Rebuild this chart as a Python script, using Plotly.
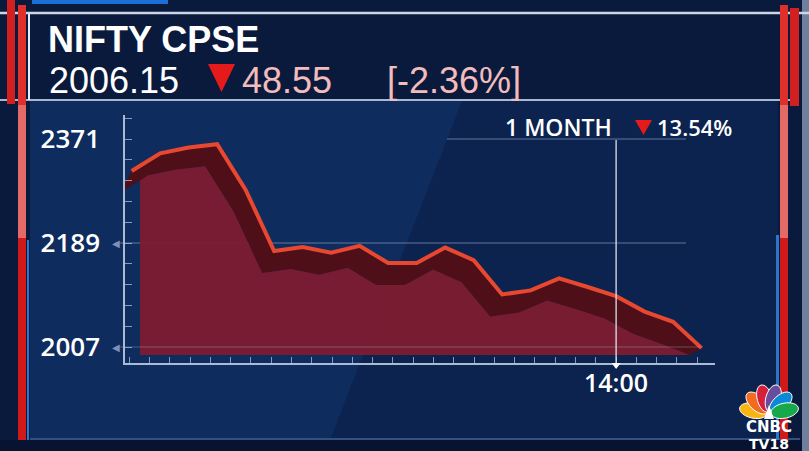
import math
import numpy as np
import plotly.graph_objects as go

W, H = 809, 451

# NIFTY CPSE intraday values
x_idx = list(range(21))
prices = [2315, 2346, 2356, 2362, 2282, 2175, 2182, 2172, 2184, 2154, 2154,
          2181, 2159, 2099, 2106, 2127, 2112, 2096, 2069, 2051, 2005]
y_ticks = [2007, 2189, 2371]
y_tick_labels = ['2007', '2189', '2371']
x_tick_vals = [17]
x_tick_labels = ['14:00']

index_name = 'NIFTY CPSE'
last_price = '2006.15'
change = '48.55'
change_pct = '[-2.36%]'
month_label = '1 MONTH'
month_change = '13.54%'

# 3d "extrusion" of the area: front face is shifted left/down
DEPTH_X = -0.42
DEPTH_Y = -38.5
BASE = 1993

NAVY = '#0a1a3d'
PANEL = '#0f2c5f'
FONT = 'Open Sans'
HEAD_FONT = 'Liberation Sans'
PINK = '#f3bcbc'

# plot box in pixels
PLOT_L, PLOT_R, FACE_L = 125, 715, 140
X_RANGE = [-0.235, 20.47]


def px(x):
    return x / W


def py(y):
    return 1 - y / H


# the front face is clipped a little to the right of the y axis
unit_px = (PLOT_R - PLOT_L) / (X_RANGE[1] - X_RANGE[0])
face_range = [X_RANGE[0] + (FACE_L - PLOT_L) / unit_px, X_RANGE[1]]

face_x = np.array(x_idx) + DEPTH_X
face_y = np.maximum(np.array(prices) + DEPTH_Y, BASE)
clear = dict(color='rgba(0,0,0,0)', width=0)

fig = go.Figure()
# top surface band (between back edge and front edge)
fig.add_trace(go.Scatter(x=face_x, y=face_y, mode='lines', line=clear,
                         hoverinfo='skip', showlegend=False))
fig.add_trace(go.Scatter(x=x_idx, y=prices, mode='lines', line=clear,
                         fill='tonexty', fillcolor='#4f0f19',
                         hoverinfo='skip', showlegend=False))
# front face
fig.add_trace(go.Scatter(x=face_x, y=[BASE] * len(face_x), mode='lines', line=clear,
                         xaxis='x2', hoverinfo='skip', showlegend=False))
fig.add_trace(go.Scatter(x=face_x, y=face_y, mode='lines', line=clear,
                         xaxis='x2', fill='tonexty', fillcolor='rgba(124,28,48,0.96)',
                         hoverinfo='skip', showlegend=False))
# bright edge line
fig.add_trace(go.Scatter(x=x_idx, y=prices, mode='lines',
                         line=dict(color='#e8482f', width=4),
                         showlegend=False))

shapes = []


def rect(x0, y0, x1, y1, color, layer='below'):
    shapes.append(dict(type='rect', xref='paper', yref='paper',
                       x0=px(x0), x1=px(x1), y0=py(y1), y1=py(y0),
                       fillcolor=color, line=dict(width=0), layer=layer))


def hline(x0, x1, y, color, width, layer='below'):
    shapes.append(dict(type='line', xref='paper', yref='paper',
                       x0=px(x0), x1=px(x1), y0=py(y), y1=py(y),
                       line=dict(color=color, width=width), layer=layer))


def poly(points, color, line=None, layer='above'):
    path = 'M ' + ' L '.join('{} {}'.format(px(a), py(b)) for a, b in points) + ' Z'
    shapes.append(dict(type='path', xref='paper', yref='paper', path=path,
                       fillcolor=color, line=line or dict(width=0), layer=layer))


def tri(x0, x1, y0, y1, color):
    # downward triangle, top edge at y0, tip at y1
    poly([(x0, y0), (x1, y0), ((x0 + x1) / 2, y1)], color)


# backgrounds
rect(30, 101, 778, 440, PANEL)
poly([(462, 101), (778, 101), (778, 440), (330, 440)], 'rgba(6,16,42,0.3)', layer='below')
rect(0, 440, W, H, '#071330')
hline(30, 800, 439, '#33507f', 2)
rect(32, 0, 168, 4, '#1b6fd6')
rect(802, 0, W, H, '#6f7f9e')

# header frame
hline(0, 809, 13, '#cdd6e6', 2.5)
hline(0, 790, 100, '#a9b8d2', 2)
shapes.append(dict(type='line', xref='paper', yref='paper',
                   x0=px(29), x1=px(29), y0=py(14), y1=py(100),
                   line=dict(color='#e8eef8', width=2)))

# red side bars
rect(7, 0, 15, 104, '#d21f1f', 'above')
rect(18, 5, 26, 105, '#e0302c', 'above')
rect(18, 105, 26, 238, '#e46a68', 'above')
rect(18, 238, 26, 440, '#d01a1a', 'above')
rect(27, 240, 29, 440, '#2a78cc', 'above')
rect(780, 5, 788, 105, '#e0302c', 'above')
rect(780, 105, 788, 238, '#e46a68', 'above')
rect(780, 238, 788, 440, '#d01a1a', 'above')
rect(776, 235, 779, 440, '#2a78cc', 'above')
rect(790, 8, 799, 106, '#d21f1f', 'above')

# grid lines at labelled levels
grid = 'rgba(170,188,215,0.55)'
shapes.append(dict(type='line', xref='paper', yref='y', x0=px(115), x1=px(686),
                   y0=y_ticks[1], y1=y_ticks[1], line=dict(color=grid, width=1.2), layer='below'))
shapes.append(dict(type='line', xref='paper', yref='y', x0=px(115), x1=px(700),
                   y0=y_ticks[0], y1=y_ticks[0], line=dict(color='rgba(170,188,215,0.35)', width=1.2),
                   layer='above'))
shapes.append(dict(type='line', xref='paper', yref='y', x0=px(447), x1=px(686),
                   y0=y_ticks[2], y1=y_ticks[2], line=dict(color=grid, width=1.2), layer='below'))
# 14:00 marker line and its little pointer under the axis
t0 = x_tick_vals[0]
shapes.append(dict(type='line', xref='x', yref='paper', x0=t0, x1=t0,
                   y0=py(140), y1=py(363), line=dict(color='rgba(225,232,245,0.85)', width=1.5),
                   layer='above'))
shapes.append(dict(type='path', xref='x', yref='paper', layer='above',
                   path='M {} {} L {} {} L {} {} Z'.format(t0 - 0.16, py(363), t0 + 0.16, py(363),
                                                           t0, py(369)),
                   fillcolor='white', line=dict(width=0)))

# red down triangles
tri(208, 235, 64, 92, '#e51b1b')
tri(635, 652, 120, 135, '#e51b1b')

# CNBC peacock: six elongated feathers fanning out
feather_colors = ['#f7b512', '#f26b21', '#d61f3c', '#6a4c9c', '#0a8ad6', '#17a84b']
for i, c in enumerate(feather_colors):
    a = math.radians(168 - i * 31.2)
    cx = 769 + 16 * math.cos(a)
    cy = 414 - 16 * math.sin(a)
    pts = []
    for k in range(24):
        t = 2 * math.pi * k / 24
        u, v = 14 * math.cos(t), 7.5 * math.sin(t)
        pts.append((cx + u * math.cos(a) - v * math.sin(a),
                    cy - (u * math.sin(a) + v * math.cos(a))))
    poly(pts, c, line=dict(color='white', width=1))
poly([(764, 419), (769, 405), (774, 419)], 'white')

annotations = []


def text(x, y, s, size, color='white', weight=400, anchor='left', family=FONT):
    annotations.append(dict(xref='paper', yref='paper', x=px(x), y=py(y), text=s,
                            showarrow=False, xanchor=anchor, yanchor='middle',
                            font=dict(family=family, size=size, color=color, weight=weight)))


text(46, 39.5, index_name, 36, weight=700, family=HEAD_FONT)
text(47, 81, last_price, 36, family=HEAD_FONT)
text(240, 81, change, 36, color=PINK, family=HEAD_FONT)
text(385, 81, change_pct, 36, color=PINK, family=HEAD_FONT)

text(503, 127, month_label, 23, weight=600)
text(655, 127, month_change, 22, weight=600)

for v in y_ticks[:2]:
    annotations.append(dict(xref='paper', yref='y', x=px(116), y=v, text='◀', showarrow=False,
                            font=dict(size=10, color='#7f90b2'), xanchor='center', yanchor='middle'))
for v, lab in zip(x_tick_vals, x_tick_labels):
    annotations.append(dict(xref='x', yref='paper', x=v, y=py(382), text=lab, showarrow=False,
                            xanchor='center', yanchor='middle',
                            font=dict(family=FONT, size=25, color='white', weight=600)))

text(769, 427, 'CNBC', 15, weight=700, family='DejaVu Sans', anchor='center')
text(769, 444, 'TV18', 14, weight=700, family='DejaVu Sans', anchor='center')

axis_col = 'rgba(200,212,232,0.85)'
tick_col = 'rgba(190,204,228,0.7)'

fig.update_layout(
    width=W, height=H, autosize=False,
    margin=dict(l=0, r=0, t=0, b=0),
    paper_bgcolor=NAVY, plot_bgcolor='rgba(0,0,0,0)',
    showlegend=False,
    shapes=shapes, annotations=annotations,
    xaxis=dict(domain=[px(PLOT_L), px(PLOT_R)], range=X_RANGE,
               showgrid=False, zeroline=False, showline=True,
               linecolor=axis_col, linewidth=2,
               showticklabels=False, ticks='',
               minor=dict(tickmode='linear', tick0=t0, dtick=0.712,
                          ticks='inside', ticklen=6, tickcolor=tick_col, showgrid=False)),
    xaxis2=dict(domain=[px(FACE_L), px(PLOT_R)], range=face_range, anchor='y',
                visible=False, showgrid=False, zeroline=False),
    yaxis=dict(domain=[py(363), py(115)], range=[1979, 2413],
               showgrid=False, zeroline=False, showline=True,
               linecolor=axis_col, linewidth=1.5,
               tickmode='array', tickvals=y_ticks, ticktext=y_tick_labels, ticks='',
               ticklabelstandoff=18,
               tickfont=dict(family=FONT, size=26, color='white', weight=600),
               minor=dict(tickmode='linear', tick0=y_ticks[0], dtick=36.4,
                          ticks='inside', ticklen=7, tickcolor=tick_col, showgrid=False)),
)

fig.write_html("out.html", config={'displayModeBar': False},
               post_script="document.body.style.margin='0';")
